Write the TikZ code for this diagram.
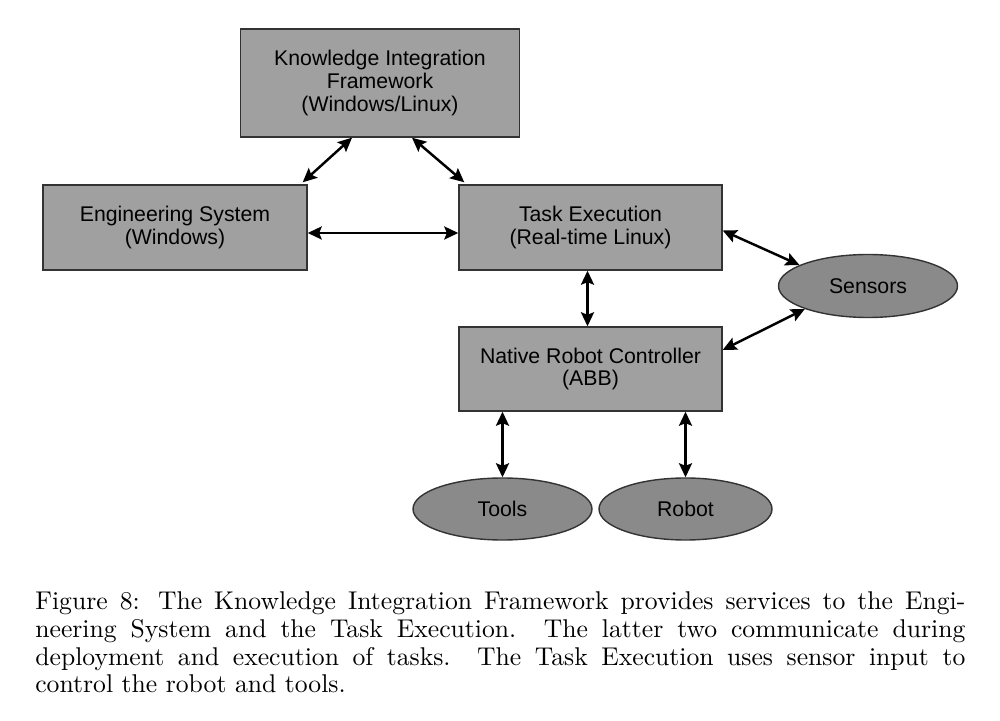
\documentclass[tikz,border=0pt]{standalone}
\usepackage{fontspec}
\newfontfamily\boxfont{Liberation Sans}
\newfontfamily\capfont{lmroman10-regular}[Extension=.otf]
\usetikzlibrary{arrows.meta,shapes.geometric}
\definecolor{boxgray}{RGB}{160,160,160}
\definecolor{ovalgray}{RGB}{138,138,138}
\begin{document}
\begin{tikzpicture}[x=1cm,y=1cm,
  unit/.style={draw=black!80,line width=0.8pt,fill=boxgray,align=center,font=\boxfont\fontsize{12.1}{13}\selectfont},
  part/.style={ellipse,draw=black!80,line width=0.8pt,fill=ovalgray,inner sep=0pt,font=\boxfont\fontsize{12.1}{13}\selectfont},
  link/.style={line width=1.4pt,{Stealth[length=2.8mm,width=2.6mm,inset=0.5mm]}-{Stealth[length=2.8mm,width=2.6mm,inset=0.5mm]}}]
\useasboundingbox (0,0) rectangle (20,14.4);

\node[unit,minimum width=5.58cm,minimum height=2.16cm] (kif) at (7.6,12.74) {Knowledge Integration\\Framework\\(Windows/Linux)};
\node[unit,minimum width=5.28cm,minimum height=1.7cm] (eng) at (3.5,9.85) {Engineering System\\(Windows)};
\node[unit,minimum width=5.26cm,minimum height=1.7cm] (task) at (11.81,9.85) {Task Execution\\(Real-time Linux)};
\node[unit,minimum width=5.26cm,minimum height=1.68cm] (nrc) at (11.81,7.02) {Native Robot Controller\\(ABB)};

\node[part,minimum width=3.58cm,minimum height=1.26cm] (sensors) at (17.36,8.68) {Sensors};
\node[part,minimum width=3.58cm,minimum height=1.24cm] (tools) at (10.05,4.22) {Tools};
\node[part,minimum width=3.46cm,minimum height=1.24cm] (robot) at (13.71,4.22) {Robot};

\draw[link] ([xshift=-0.56cm]kif.south) -- ([xshift=-0.1cm,yshift=0.04cm]eng.north east);
\draw[link] ([xshift=0.64cm]kif.south) -- ([xshift=0.12cm,yshift=0.04cm]task.north west);
\draw[link] ([yshift=-0.11cm]eng.east) -- ([yshift=-0.11cm]task.west);
\draw[link] ([xshift=-0.06cm]task.south) -- ([xshift=-0.06cm]nrc.north);
\draw[link] ([yshift=-0.06cm]task.east) -- (sensors.163);
\draw[link] ([yshift=0.38cm]nrc.east) -- (sensors.200);
\draw[link] (tools.north |- nrc.south) -- (tools.north);
\draw[link] (robot.north |- nrc.south) -- (robot.north);

\node[anchor=north west,text width=18.6cm,align=justify,inner sep=0pt,font=\capfont\fontsize{14.6}{15.9}\selectfont] (caption) at (0.7,2.58)
  {Figure 8: The Knowledge Integration Framework provides services to the Engi-\linebreak
   neering System and the Task Execution. The latter two communicate during\linebreak
   deployment and execution of tasks. The Task Execution uses sensor input to\linebreak
   control the robot and tools.};
\end{tikzpicture}
\end{document}
